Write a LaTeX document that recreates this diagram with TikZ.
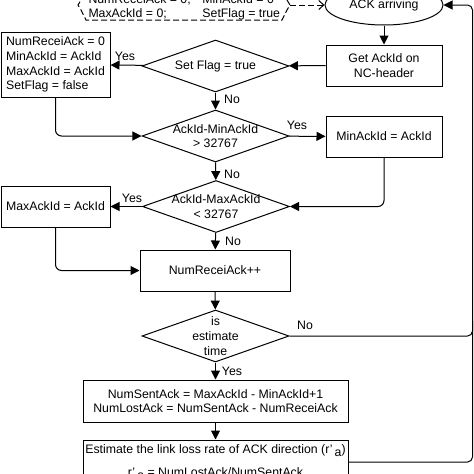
\documentclass[tikz,border=0pt]{standalone}
\usepackage{fontspec}
\setmainfont{Liberation Sans}
\usetikzlibrary{shapes.geometric,arrows.meta}

\begin{document}
\begin{tikzpicture}[x=1pt,y=-1pt,line width=1pt,
	font=\fontsize{12.3}{14.7}\selectfont,
	box/.style={draw,rectangle,align=center,inner sep=2pt},
	decide/.style={draw,diamond,minimum width=147pt,minimum height=52pt,inner sep=0pt},
	arr/.style={-{Triangle[length=9pt,width=9pt]}},
	lbl/.style={inner sep=0pt}]
	
	\useasboundingbox (0,0) rectangle (474,474);
	\clip (0,0) rectangle (474,474);
	
	% initial values
	\node[anchor=west,inner sep=0pt] (note) at (88,7.5)
	{\begin{tabular}{@{}p{114pt}@{}l@{}}NumReceiAck = 0; & MinAckId = 0\\MaxAckId = 0; & SetFlag = true\end{tabular}};
	\draw[dash pattern=on 6pt off 3pt] (81,-25) -- (81,0) -- (78,5) -- (81,10) -- (86,20) -- (282,20) -- (287,10) -- (290,5) -- (287,0) -- (287,-25);
	\coordinate (ntip) at (290,5);
	
	% start
	\node[draw,ellipse,minimum width=118pt,minimum height=40pt] (start) at (384,5) {ACK arriving};
	\draw[dash pattern=on 6pt off 3pt,-{Straight Barb[length=5pt,width=9pt]}] (ntip) -- (start.west);
	
	% AckId
	\node[box,minimum width=116pt,minimum height=41pt] (getid) at (384,65.5) {Get AckId on\\NC-header};
	\node[decide] (d1) at (215.5,66) {};
	\node (d1t) at (d1) {Set Flag = true};
	\node[box,align=left,minimum width=109pt,minimum height=65pt] (init) at (55.5,64.5)
	{NumReceiAck = 0\\MinAckId = AckId\\MaxAckId = AckId\\SetFlag = false};
	
	% min / max
	\node[decide] (d2) at (215.5,136) {};
	\node[align=center] (d2t) at (d2) {AckId-MinAckId\\> 32767};
	\node[box,minimum width=116pt,minimum height=41pt] (minbox) at (384,136.5) {MinAckId = AckId};
	\node[decide] (d3) at (216,206.5) {};
	\node[align=center] (d3t) at (d3) {AckId-MaxAckId\\< 32767};
	\node[box,minimum width=109pt,minimum height=41pt] (maxbox) at (55.5,206.5) {MaxAckId = AckId};
	
	% counting
	\node[box,minimum width=150pt,minimum height=41pt] (count) at (215,270.5) {NumReceiAck++};
	\node[decide] (d4) at (215.5,336) {};
	\node[align=center] (d4t) at (d4) {is\\estimate\\time};
	\node[box,minimum width=265pt,minimum height=42pt] (calc) at (215.5,401)
	{NumSentAck = MaxAckId - MinAckId+1\\NumLostAck = NumSentAck - NumReceiAck};
	\node[box,minimum width=265pt,minimum height=44pt] (rate) at (215.5,462)
	{Estimate the link loss rate of ACK direction (r'\,\raisebox{-3.5pt}{a})\\[8pt]
		r'\,\raisebox{-3.5pt}{a} = NumLostAck/NumSentAck};
	
	% labels
	\node[lbl] (y1) at (125,56) {Yes};
	\node[lbl] (n1) at (232,99) {No};
	\node[lbl] (y2) at (297,125) {Yes};
	\node[lbl] (n2) at (232,174) {No};
	\node[lbl] (y3) at (132,198) {Yes};
	\node[lbl] (n3) at (233,241) {No};
	\node[lbl] (n4) at (305,325) {No};
	\node[lbl] (y4) at (232,371) {Yes};
	
	% arrows
	\draw[arr] (start) -- (getid);
	\draw[arr] (getid) -- (d1);
	\draw[arr] (d1) -- (init);
	\draw[arr] (d1) -- (d2);
	\draw[arr,rounded corners=6pt] (init) |- (d2);
	\draw[arr] (d2) -- (minbox);
	\draw[arr] (d2) -- (d3);
	\draw[arr,rounded corners=6pt] (minbox) |- (d3);
	\draw[arr] (d3) -- (maxbox);
	\draw[arr,rounded corners=6pt] (maxbox) |- (count);
	\draw[arr] (d3) -- (count);
	\draw[arr] (count) -- (d4);
	\draw[arr] (d4) -- (calc);
	\draw[arr] (calc) -- (rate);
	
	% loop back
	\coordinate (rtop) at (472.5,5);
	\draw[arr,rounded corners=5pt] (rate.east) -| (rtop) -- (start.east);
	\draw[rounded corners=5pt] (d4.east) -- (d4.east -| rtop) -- ++(0,-15);
	
\end{tikzpicture}
\end{document}
